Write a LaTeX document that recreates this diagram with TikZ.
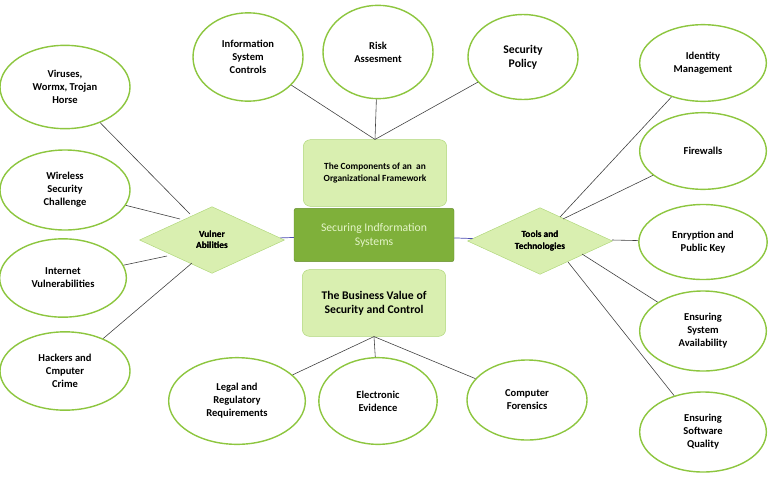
\documentclass[tikz,border=0pt]{standalone}
\usepackage{fontspec}
\setmainfont{Carlito}
\usetikzlibrary{shapes.geometric}
\definecolor{lgreen}{HTML}{D9EFB0}
\definecolor{egreen}{HTML}{8DC63F}
\definecolor{dgreen}{HTML}{7FB03A}
\begin{document}
\begin{tikzpicture}[x=0.03cm,y=-0.03cm,
 ell/.style={ellipse,draw=egreen,line width=1.2pt,fill=white,minimum width=#1,align=center,font=\bfseries\small,inner sep=0pt},
 ell/.default=3.6cm,
 box/.style={rounded corners=6pt,draw=egreen!70,fill=lgreen,minimum width=4.3cm,minimum height=2cm,align=center,font=\bfseries\normalsize},
 dia/.style={diamond,draw=egreen!70,fill=lgreen,minimum width=4.35cm,minimum height=2cm,aspect=2.2,align=center,font=\bfseries\footnotesize,inner sep=0pt},
 ln/.style={draw=black!75,line width=0.5pt},
 bl/.style={draw=blue!40!gray,line width=0.6pt}]
\useasboundingbox (0,0) rectangle (768,503);
% ellipses
\node[ell,minimum height=2.5cm,minimum width=3.9cm] (vir) at (65,87) {Viruses,\\Wormx, Trojan\\Horse};
\node[ell,minimum height=2.4cm,minimum width=3.9cm] (wir) at (65,190) {Wireless\\Security\\Challenge};
\node[ell,minimum height=2.35cm,minimum width=3.8cm] (int) at (63,278) {Internet\\Vulnerabilities};
\node[ell,minimum height=2.35cm,minimum width=3.9cm] (hac) at (65,371) {Hackers and\\Cmputer\\Crime};
\node[ell,minimum height=2.65cm,minimum width=3.3cm] (isc) at (248,57) {Information\\System\\Controls};
\node[ell,minimum height=2.8cm,minimum width=3.3cm] (risk) at (378,52) {Risk\\Assesment};
\node[ell,minimum height=2.55cm,minimum width=3.3cm,font=\bfseries\normalsize] (pol) at (523,57) {Security\\Policy};
\node[ell,minimum height=2.3cm,minimum width=3.8cm] (idm) at (703,63) {Identity\\Management};
\node[ell,minimum height=2.3cm,minimum width=3.8cm] (fw) at (703,151) {Firewalls};
\node[ell,minimum height=2.25cm,minimum width=3.85cm] (enc) at (703,242) {Enryption and\\Public Key};
\node[ell,minimum height=2.4cm,minimum width=3.8cm] (ess) at (703,331) {Ensuring\\System\\Availability};
\node[ell,minimum height=2.4cm,minimum width=3.8cm] (esw) at (703,432) {Ensuring\\Software\\Quality};
\node[ell,minimum height=2.6cm,minimum width=4.1cm] (leg) at (237,401) {Legal and\\Regulatory\\Requirements};
\node[ell,minimum height=2.6cm,minimum width=3.55cm] (ele) at (378,401) {Electronic\\Evidence};
\node[ell,minimum height=2.4cm,minimum width=3.6cm] (cf) at (527,400) {Computer\\Forensics};
% boxes
\node[box,font=\bfseries\footnotesize] (comp) at (375,173) {The Components of an\ \ an\\Organizational Framework};
\node[box] (bus) at (374,303) {The Business Value of\\Security and Control};
\node[rounded corners=2pt,fill=dgreen,draw=dgreen!80!black,minimum width=4.8cm,minimum height=1.6cm,align=center,text=lgreen!70!white,font=\normalsize] (sis) at (374,235) {Securing Indformation\\Systems};
\node[dia] (vul) at (212,240) {Vulner\\Abilities};
\node[dia] (tools) at (540,241) {Tools and\\Technologies};
% connectors
\draw[bl] (vul) -- (sis);
\draw[bl] (sis) -- (tools);
\draw[ln] (comp.north) -- (isc);
\draw[ln] (comp.north) -- (risk);
\draw[ln] (comp.north) -- (pol);
\draw[ln] (bus.south) -- (leg);
\draw[ln] (bus.south) -- (ele);
\draw[ln] (bus.south) -- (cf);
\coordinate (v1) at (190,214);
\coordinate (v2) at (180,219);
\coordinate (v3) at (167,256);
\coordinate (v4) at (192,263);
\draw[ln] (v1) -- (vir);
\draw[ln] (v2) -- (wir);
\draw[ln] (v3) -- (int);
\draw[ln] (v4) -- (hac);
\coordinate (t1) at (560,217);
\coordinate (t2) at (563,219);
\coordinate (t3) at (612,240);
\coordinate (t4) at (582,254);
\coordinate (t5) at (568,262);
\draw[ln] (t1) -- (idm);
\draw[ln] (t2) -- (fw);
\draw[ln] (t3) -- (enc);
\draw[ln] (t4) -- (ess);
\draw[ln] (t5) -- (esw);
\node[dia,draw=none,fill=none] at (212,240) {Vulner\\Abilities};
\node[dia,draw=none,fill=none] at (540,241) {Tools and\\Technologies};
\end{tikzpicture}
\end{document}
